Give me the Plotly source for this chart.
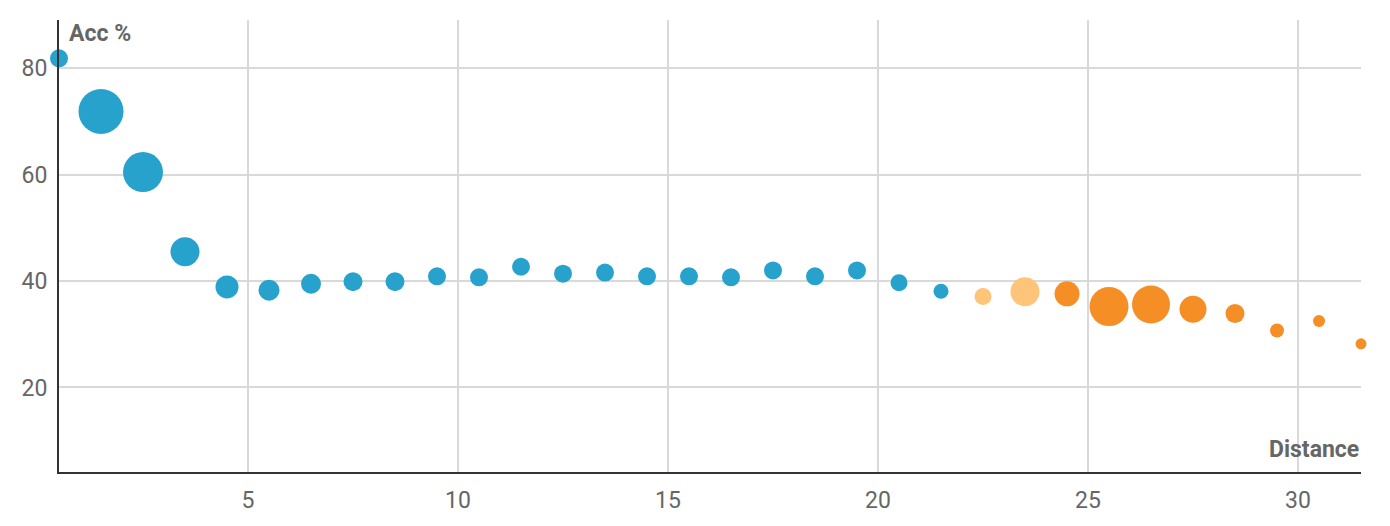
import plotly.graph_objects as go

# Data
distance = [0.5, 1.5, 2.5, 3.5, 4.5, 5.5, 6.5, 7.5, 8.5, 9.5, 10.5, 11.5, 12.5, 13.5,
            14.5, 15.5, 16.5, 17.5, 18.5, 19.5, 20.5, 21.5, 22.5, 23.5, 24.5, 25.5,
            26.5, 27.5, 28.5, 29.5, 30.5, 31.5]
accuracy = [81.9, 71.9, 60.5, 45.5, 38.9, 38.3, 39.5, 39.9, 39.9, 40.9, 40.7, 42.7,
            41.4, 41.6, 40.9, 40.9, 40.7, 42.0, 40.9, 42.0, 39.7, 38.1, 37.1, 38.0,
            37.6, 35.2, 35.6, 34.7, 33.9, 30.7, 32.5, 28.2]
bubble_weight = [18, 45, 40, 29, 23, 21, 20, 19, 19, 18, 18, 18, 18, 18, 18, 18, 18,
                 18, 18, 18, 17, 15, 17, 29, 25, 39, 38, 27, 19, 14, 12, 11]
group = ["a"] * 22 + ["b"] * 2 + ["c"] * 8

x_ticks = [5, 10, 15, 20, 25, 30]
y_ticks = [20, 40, 60, 80]

palette = {"a": "#27a2cc", "b": "#fdc47a", "c": "#f68e26"}
colors = [palette[g] for g in group]

fig = go.Figure()
fig.add_trace(go.Scatter(
    x=distance, y=accuracy, mode="markers",
    marker=dict(size=bubble_weight, sizemode="diameter", sizeref=1,
                color=colors, line=dict(width=0), opacity=1),
    cliponaxis=False, hoverinfo="x+y", showlegend=False,
))

font_color = "#666666"
fig.update_layout(
    width=1390, height=526,
    margin=dict(l=59, r=29, t=20, b=52),
    paper_bgcolor="white", plot_bgcolor="white",
    font=dict(family="Roboto", size=23, color=font_color),
    xaxis=dict(range=[0.5, 31.5], tickvals=x_ticks, showgrid=True,
               gridcolor="#d9d9d9", gridwidth=2, zeroline=False,
               showline=True, linecolor="#333333", linewidth=2,
               ticks="", ticklabelstandoff=6,
               tickfont=dict(size=23, color=font_color)),
    yaxis=dict(range=[4.1, 89.1], tickvals=y_ticks, showgrid=True,
               gridcolor="#d9d9d9", gridwidth=2, zeroline=False,
               showline=True, linecolor="#333333", linewidth=2,
               ticks="", ticklabelstandoff=5,
               tickfont=dict(size=23, color=font_color)),
    annotations=[
        dict(text="<b>Acc %</b>", xref="paper", yref="paper",
             x=8 / 1302, y=(474 - 34) / 454, xanchor="left", yanchor="middle",
             showarrow=False, font=dict(size=23, color=font_color, family="Roboto")),
        dict(text="<b>Distance</b>", xref="paper", yref="paper",
             x=(1361 - 59) / 1302, y=(474 - 451) / 454, xanchor="right", yanchor="middle",
             showarrow=False, font=dict(size=23, color=font_color, family="Roboto")),
    ],
)

fig.write_html("out.html", config={"displayModeBar": False},
               post_script="document.body.style.margin='0';document.body.style.overflow='hidden';")
